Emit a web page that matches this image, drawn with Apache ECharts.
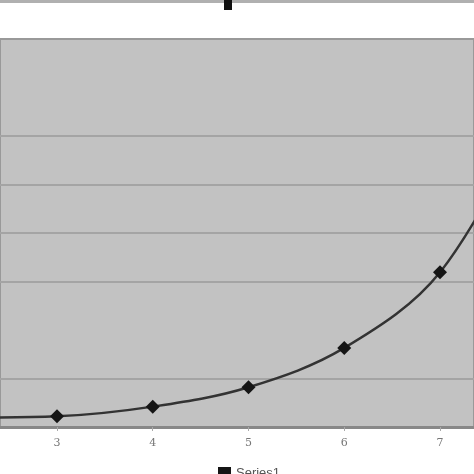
<!DOCTYPE html>
<html>
<head>
<meta charset="utf-8">
<script src="https://cdn.jsdelivr.net/npm/echarts@6/dist/echarts.min.js"></script>
<style>
html,body{margin:0;padding:0;background:#fff;}
#c{width:474px;height:474px;}
</style>
</head>
<body>
<div id="c"></div>
<script>
// Data (y in arbitrary units, grid step = 10)
const xValues = [2, 3, 4, 5, 6, 7, 8];
const yValues = [1.9, 2.2, 4.2, 8.2, 16.3, 31.9, 66];
const tickLabels = [3, 4, 5, 6, 7];
const seriesName = 'Series1';

const points = xValues.map((x, i) => [x, yValues[i]]);
const grid = '#a4a4a4';

const chart = echarts.init(document.getElementById('c'), null, {renderer: 'canvas'});
chart.setOption({
  backgroundColor: '#ffffff',
  animation: false,
  grid: {
    left: 0, right: 0, top: 39, bottom: 47,
    show: true, backgroundColor: '#c2c2c2',
    borderColor: '#999999', borderWidth: 2
  },
  xAxis: {
    type: 'value',
    min: 2.405, max: 7.355,
    axisLine: {show: true, onZero: false, lineStyle: {color: '#888888', width: 3}},
    axisTick: {show: true, customValues: tickLabels, length: 4, lineStyle: {color: '#aaaaaa'}},
    axisLabel: {customValues: tickLabels, color: '#777777', fontSize: 11, margin: 11, fontFamily: 'DejaVu Serif'},
    splitLine: {show: false}
  },
  yAxis: {
    type: 'value',
    min: 0, max: 80, interval: 10,
    axisLine: {show: false},
    axisTick: {show: false},
    axisLabel: {show: false},
    splitLine: {show: true, showMinLine: true, showMaxLine: true,
      lineStyle: {width: 2, color: [grid, grid, 'rgba(0,0,0,0)', grid, grid, grid, grid, 'rgba(0,0,0,0)', '#999999']}}
  },
  legend: {
    left: 213, top: 462,
    icon: 'rect', itemWidth: 13, itemHeight: 13,
    textStyle: {color: '#555555', fontSize: 13},
    data: [seriesName]
  },
  graphic: [
    {type: 'rect', shape: {x: 0, y: 0, width: 474, height: 3}, style: {fill: '#b0b0b0'}, silent: true},
    {type: 'rect', shape: {x: 224, y: 0, width: 8, height: 10}, style: {fill: '#111111'}, silent: true}
  ],
  series: [{
    name: seriesName,
    type: 'line',
    data: points,
    smooth: 0.35,
    clip: true,
    symbol: 'diamond',
    symbolSize: 14,
    itemStyle: {color: '#151515'},
    lineStyle: {color: '#333333', width: 2.5}
  }]
});
</script>
</body>
</html>
